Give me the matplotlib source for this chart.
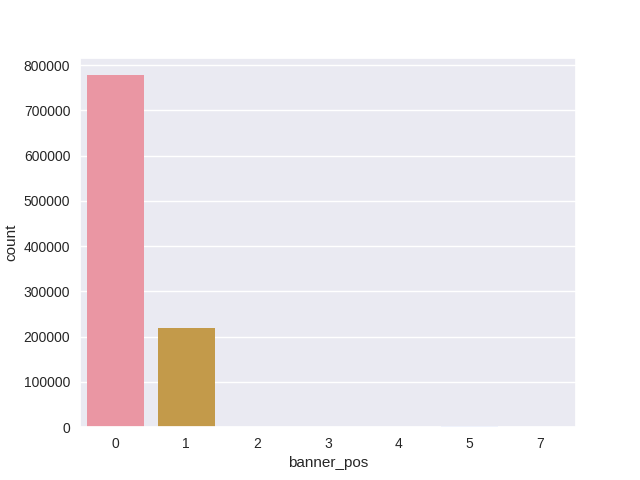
import matplotlib
matplotlib.use("Agg")
import matplotlib.pyplot as plt
import seaborn as sns

# counts of banner_pos values
banner_pos = ["0", "1", "2", "3", "4", "5", "7"]
counts = [778000, 219000, 300, 50, 200, 2500, 100]

# palette (old seaborn husl look)
colors = ["#EA96A3", "#C39A4A", "#8AAC4E", "#55AE8A", "#58AAB6", "#93A6EE", "#DC8ED8"]

sns.set_theme(style="darkgrid")
plt.rcParams["font.family"] = ["Liberation Sans", "DejaVu Sans"]
plt.rcParams["xtick.labelsize"] = 10
plt.rcParams["ytick.labelsize"] = 10
plt.rcParams["axes.labelsize"] = 11
plt.rcParams["xtick.major.size"] = 0
plt.rcParams["ytick.major.size"] = 0
plt.rcParams["xtick.major.pad"] = 7
plt.rcParams["ytick.major.pad"] = 7

fig, ax = plt.subplots(figsize=(6.4, 4.8), dpi=100)
sns.barplot(x=banner_pos, y=counts, hue=banner_pos, palette=colors,
            saturation=1, legend=False, linewidth=0, ax=ax)
ax.set_xlabel("banner_pos")
ax.set_ylabel("count")

fig.savefig("out.png")
